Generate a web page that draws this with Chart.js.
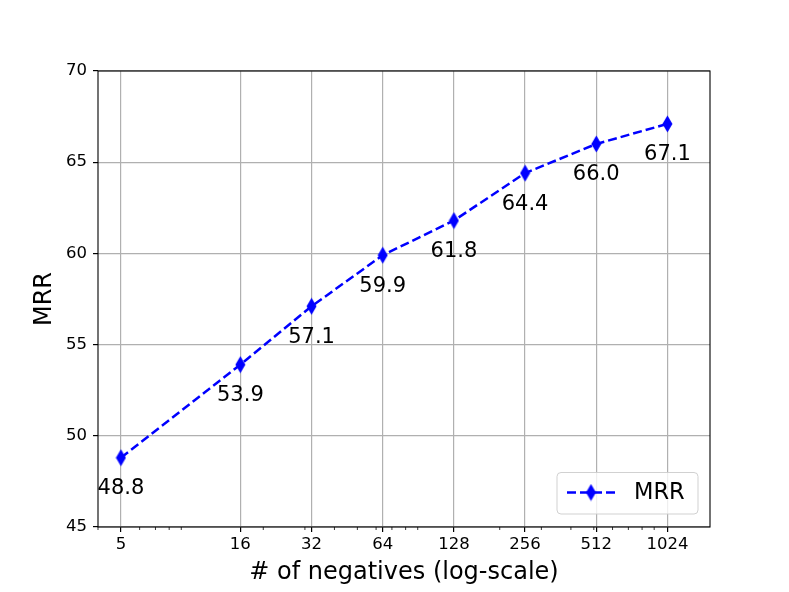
<!DOCTYPE html>
<html>
<head>
<meta charset="utf-8">
<script src="https://cdn.jsdelivr.net/npm/chart.js@4"></script>
<style>
html,body{margin:0;padding:0;background:#fff;}
#wrap{width:789px;height:592px;}
</style>
</head>
<body>
<div id="wrap"><canvas id="c" width="789" height="592"></canvas></div>
<script>
const negatives = [5, 16, 32, 64, 128, 256, 512, 1024];
const mrr = [48.8, 53.9, 57.1, 59.9, 61.8, 64.4, 66.0, 67.1];
const xTickValues = [5, 16, 32, 64, 128, 256, 512, 1024];
const xMinorTicks = [4, 6, 7, 8, 9, 20, 30, 40, 50, 60, 70, 80, 90, 200, 300, 400, 500, 600, 700, 800, 900];
const seriesName = 'MRR';
const xTitle = '# of negatives (log-scale)';
const yTitle = 'MRR';

const FONT = "'DejaVu Sans', sans-serif";

// thin diamond marker
function makeDiamond(w, h, color) {
  const c = document.createElement('canvas');
  c.width = w; c.height = h;
  const g = c.getContext('2d');
  g.fillStyle = color;
  g.beginPath();
  g.moveTo(w / 2, 0.5);
  g.lineTo(w - 0.5, h / 2);
  g.lineTo(w / 2, h - 0.5);
  g.lineTo(0.5, h / 2);
  g.closePath();
  g.fill();
  return c;
}
const diamond = makeDiamond(11, 18, '#0000ff');

const framePlugin = {
  id: 'frame',
  afterDraw(chart) {
    const ctx = chart.ctx;
    const a = chart.chartArea;
    const xs = chart.scales.x;
    ctx.save();
    // minor ticks
    ctx.strokeStyle = '#000';
    ctx.lineWidth = 0.8;
    xMinorTicks.forEach(v => {
      const px = xs.getPixelForValue(v);
      if (px < a.left - 0.5 || px > a.right + 0.5) return;
      ctx.beginPath();
      ctx.moveTo(px, a.bottom);
      ctx.lineTo(px, a.bottom + 3);
      ctx.stroke();
    });
    // frame
    ctx.lineWidth = 1.1;
    ctx.strokeStyle = '#000';
    ctx.strokeRect(a.left, a.top, a.right - a.left, a.bottom - a.top);
    // axis titles
    ctx.fillStyle = '#000';
    ctx.font = '24px ' + FONT;
    ctx.textAlign = 'center';
    ctx.textBaseline = 'middle';
    ctx.fillText(xTitle, (a.left + a.right) / 2, 573);
    ctx.save();
    ctx.translate(45, (a.top + a.bottom) / 2);
    ctx.rotate(-Math.PI / 2);
    ctx.fillText(yTitle, 0, 0);
    ctx.restore();
    // data labels
    const meta = chart.getDatasetMeta(0);
    ctx.font = '21px ' + FONT;
    meta.data.forEach((pt, i) => {
      ctx.fillText(mrr[i].toFixed(1), pt.x, pt.y + 31);
    });
    // legend
    const lx = 557, ly = 472.5, lw = 141, lh = 41.5, r = 4;
    ctx.fillStyle = 'rgba(255,255,255,0.8)';
    ctx.strokeStyle = 'rgba(204,204,204,0.9)';
    ctx.lineWidth = 1;
    ctx.beginPath();
    ctx.moveTo(lx + r, ly);
    ctx.lineTo(lx + lw - r, ly);
    ctx.quadraticCurveTo(lx + lw, ly, lx + lw, ly + r);
    ctx.lineTo(lx + lw, ly + lh - r);
    ctx.quadraticCurveTo(lx + lw, ly + lh, lx + lw - r, ly + lh);
    ctx.lineTo(lx + r, ly + lh);
    ctx.quadraticCurveTo(lx, ly + lh, lx, ly + lh - r);
    ctx.lineTo(lx, ly + r);
    ctx.quadraticCurveTo(lx, ly, lx + r, ly);
    ctx.closePath();
    ctx.fill();
    ctx.stroke();
    ctx.strokeStyle = '#0000ff';
    ctx.lineWidth = 2.5;
    ctx.setLineDash([9, 4]);
    ctx.beginPath();
    ctx.moveTo(567, 492.5);
    ctx.lineTo(615, 492.5);
    ctx.stroke();
    ctx.setLineDash([]);
    ctx.drawImage(diamond, 591 - diamond.width / 2, 492.5 - diamond.height / 2);
    ctx.fillStyle = '#000';
    ctx.font = '22.5px ' + FONT;
    ctx.textAlign = 'left';
    ctx.fillText(seriesName, 634, 493);
    ctx.restore();
  }
};

new Chart(document.getElementById('c'), {
  type: 'line',
  data: {
    datasets: [{
      label: seriesName,
      data: negatives.map((n, i) => ({ x: n, y: mrr[i] })),
      borderColor: '#0000ff',
      backgroundColor: '#0000ff',
      borderWidth: 2.5,
      borderDash: [9, 4],
      pointStyle: diamond,
      pointRadius: 8,
      tension: 0,
      fill: false
    }]
  },
  options: {
    responsive: false,
    animation: false,
    devicePixelRatio: 1,
    layout: { padding: { left: 0, right: 79, top: 71, bottom: 0 } },
    plugins: { legend: { display: false }, tooltip: { enabled: false } },
    scales: {
      x: {
        type: 'logarithmic',
        min: 4,
        max: 1550,
        afterBuildTicks(scale) {
          scale.ticks = xTickValues.map(v => ({ value: v, major: true }));
        },
        afterFit(scale) { scale.height = 65; },
        ticks: {
          autoSkip: false,
          maxRotation: 0,
          color: '#000',
          font: { family: FONT, size: 16.5 },
          padding: 3,
          callback: (v) => String(v)
        },
        grid: { color: '#b0b0b0', lineWidth: 1.2, tickColor: '#000', tickLength: 5, drawTicks: true },
        border: { display: false },
        title: { display: false }
      },
      y: {
        type: 'linear',
        min: 45,
        max: 70,
        afterFit(scale) { scale.width = 98; },
        ticks: {
          stepSize: 5,
          color: '#000',
          font: { family: FONT, size: 16.5 },
          padding: 6
        },
        grid: { color: '#b0b0b0', lineWidth: 1.2, tickColor: '#000', tickLength: 5, drawTicks: true },
        border: { display: false },
        title: { display: false }
      }
    }
  },
  plugins: [framePlugin]
});
</script>
</body>
</html>
